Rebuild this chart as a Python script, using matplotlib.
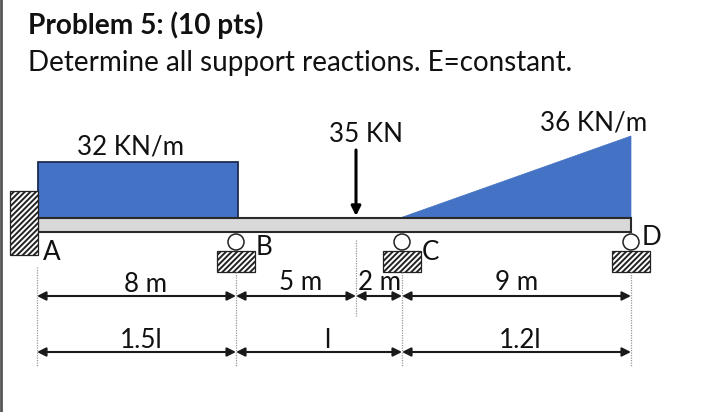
import matplotlib
matplotlib.use("Agg")
import matplotlib.pyplot as plt
from matplotlib.patches import Rectangle, Polygon, Circle

plt.rcParams['font.family'] = ['Lato', 'DejaVu Sans']
plt.rcParams['hatch.linewidth'] = 1.4

# positions along the beam, in picture pixels
node_x = [37, 236, 356, 402, 631]
beam_top = 218
beam_bottom = 232

rect_load_label = "32 KN/m"
point_load_label = "35 KN"
tri_load_label = "36 KN/m"
rect_load_top = 162
tri_load_top = 136

support_x = [236, 402, 631]
support_names = ["B", "C", "D"]
support_name_x = [264, 430, 651]
support_name_y = [247, 253, 237]

span_labels = ["8 m", "5 m", "2 m", "9 m"]
span_label_x = [146, 301, 380, 517]
span_label_y = [285, 283, 283, 283]
span_line = [(37, 236), (236, 356), (356, 402), (402, 631)]

inertia_labels = ["1.5l", "l", "1.2l"]
inertia_label_x = [141, 327, 520]
inertia_line = [(37, 236), (236, 402), (402, 631)]

dim_y = 296
inertia_y = 352
dark = "#1a1a1a"
blue = "#4472c4"
label_size = 18.7


def dim_arrow(ax, x0, x1, y):
    ax.annotate("", xy=(x0, y), xytext=(x1, y),
                arrowprops=dict(arrowstyle="<|-|>", color=dark, lw=1.5,
                                mutation_scale=13, shrinkA=0, shrinkB=0))


def hatch_box(ax, x, y, w, h):
    ax.add_patch(Rectangle((x, y), w, h, facecolor="white", edgecolor="#222222",
                           hatch="//////", lw=0.9))


fig = plt.figure(figsize=(7.02, 4.12), dpi=100)
ax = fig.add_axes([0, 0, 1, 1])
ax.set_xlim(0, 702)
ax.set_ylim(412, 0)
ax.axis("off")

# page edge on the left
ax.plot([0.5, 0.5], [0, 412], color="#555555", lw=2)

ax.text(28, 25, "Problem 5: (10 pts)", fontsize=20.2, fontweight="bold", va="center", color="#111111")
ax.text(28, 63, "Determine all support reactions. E=constant.", fontsize=20, va="center", color="#111111")

# distributed loads
ax.add_patch(Rectangle((node_x[0] + 1, rect_load_top), node_x[1] + 1 - node_x[0], beam_top - rect_load_top,
                       facecolor=blue, edgecolor="#1c2c50", lw=1.3))
ax.add_patch(Polygon([(node_x[3] - 2, beam_top), (node_x[4], tri_load_top), (node_x[4], beam_top)],
                     facecolor=blue, edgecolor=blue, lw=0.5))

# beam
ax.add_patch(Rectangle((node_x[0] + 1, beam_top), node_x[4] - node_x[0] - 1, beam_bottom - beam_top,
                       facecolor="#d9d9d9", edgecolor="#2a2a2a", lw=1.5))

# fixed support at A
hatch_box(ax, 10, 191, 28, 64)
ax.text(52, 252, "A", fontsize=label_size, ha="center", va="center", color="#111111")

# roller supports
for x, name, nx_, ny_ in zip(support_x, support_names, support_name_x, support_name_y):
    ax.add_patch(Circle((x, 242), 8, facecolor="white", edgecolor="#222222", lw=1.1))
    hatch_box(ax, x - 19, 251, 38, 21)
    ax.text(nx_, ny_, name, fontsize=label_size, ha="center", va="center", color="#111111")

# point load
ax.annotate("", xy=(node_x[2], beam_top - 2), xytext=(node_x[2], 150),
            arrowprops=dict(arrowstyle="-|>", color="black", lw=2.2, mutation_scale=14, shrinkA=0, shrinkB=0))

ax.text(131, 147, rect_load_label, fontsize=label_size, ha="center", va="center", color="#111111")
ax.text(366, 135, point_load_label, fontsize=label_size, ha="center", va="center", color="#111111")
ax.text(594, 123, tri_load_label, fontsize=label_size, ha="center", va="center", color="#111111")

# dotted extension lines
for x, y0, y1 in [(node_x[0], 267, 366), (node_x[1], 272, 366), (node_x[2], 240, 316),
                  (node_x[3], 272, 366), (node_x[4], 272, 366)]:
    ax.plot([x, x], [y0, y1], color="#999999", lw=0.9, ls=(0, (1, 1)))

# dimensions
for (x0, x1), lab, lx, ly in zip(span_line, span_labels, span_label_x, span_label_y):
    dim_arrow(ax, x0, x1, dim_y)
    ax.text(lx, ly, lab, fontsize=label_size, ha="center", va="center", color="#111111")

for (x0, x1), lab, lx in zip(inertia_line, inertia_labels, inertia_label_x):
    dim_arrow(ax, x0, x1, inertia_y)
    ax.text(lx, 340, lab, fontsize=label_size, ha="center", va="center", color="#111111")

fig.savefig("out.png", dpi=100)
